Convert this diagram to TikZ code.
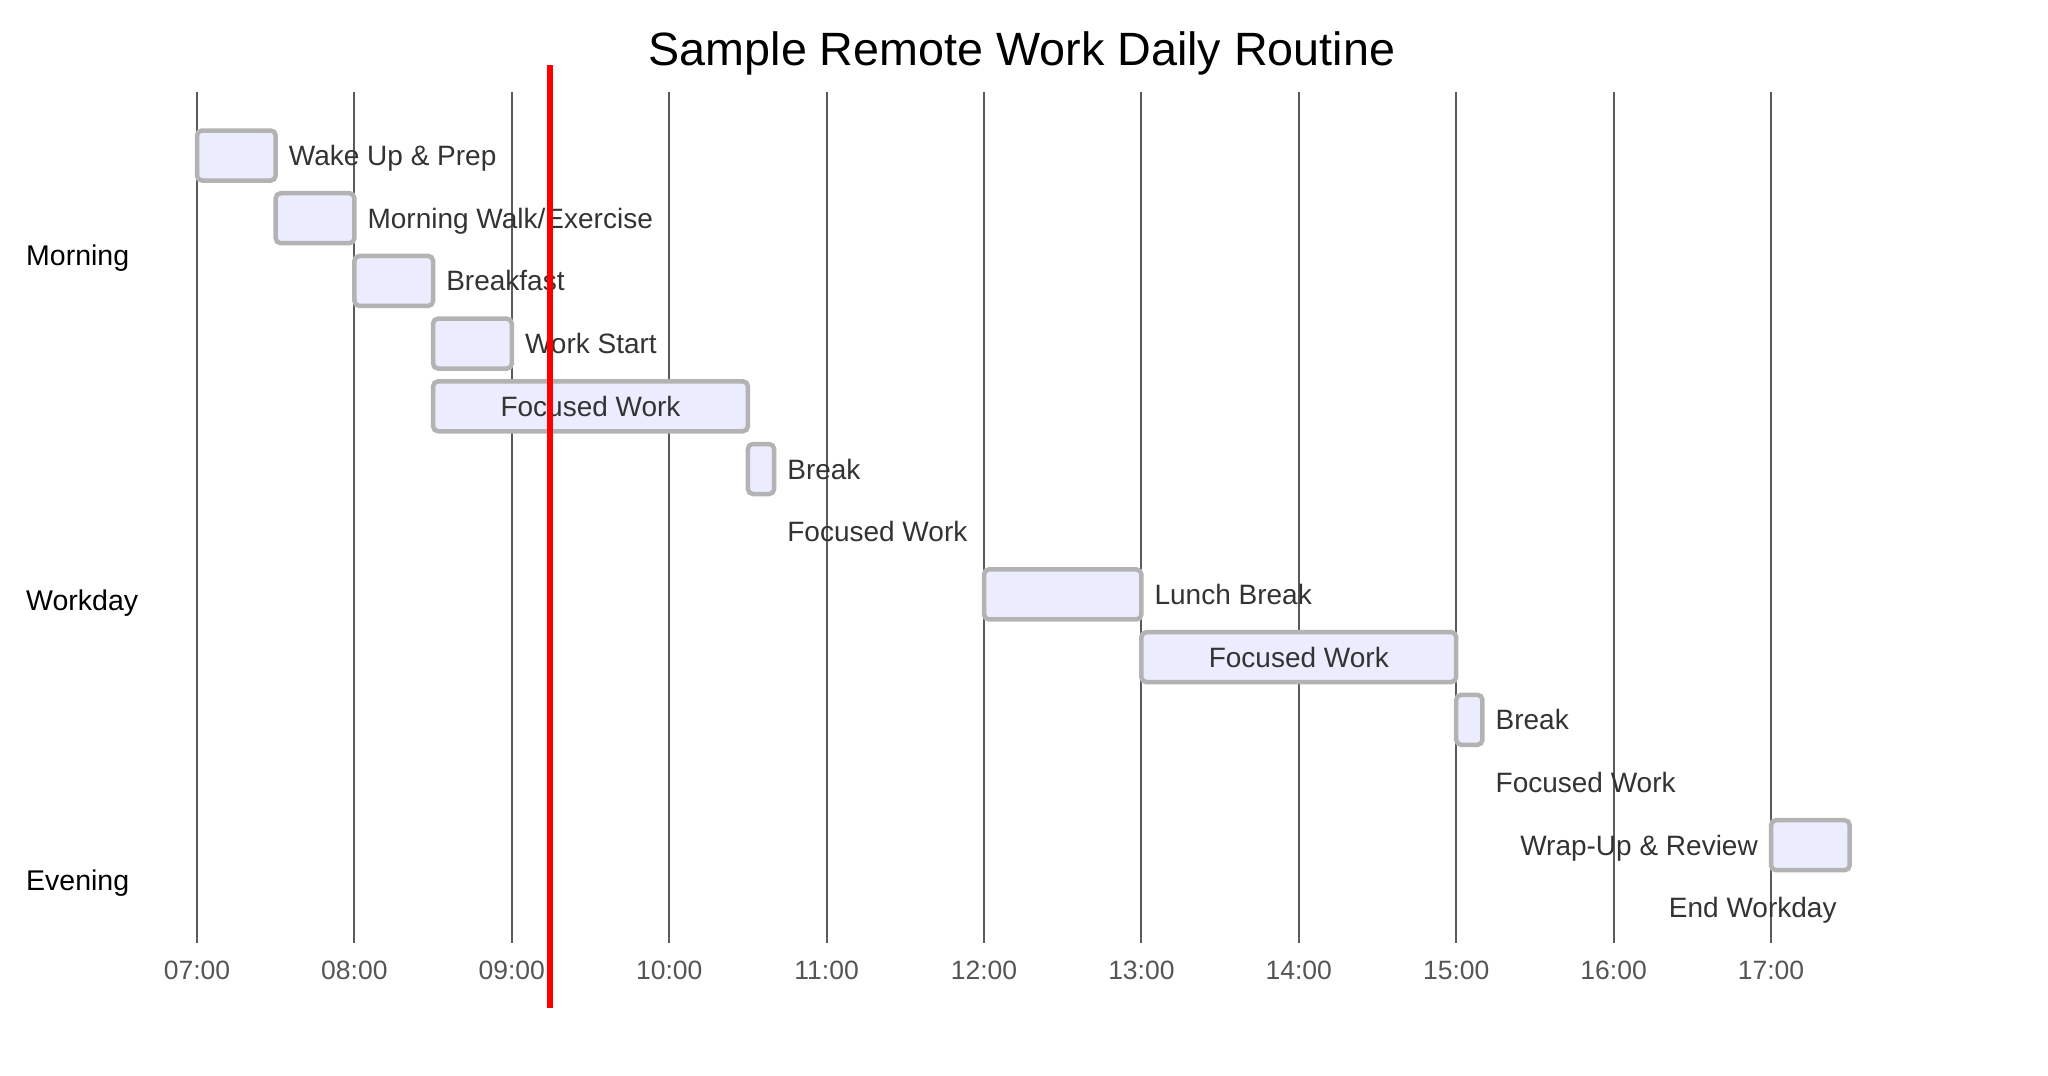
\documentclass[tikz,border=0pt]{standalone}
\usepackage{fontspec}
\setmainfont{Liberation Sans}
\usetikzlibrary{positioning}

\tikzset{
  taskbar/.style={draw=barline, line width=4.5pt, fill=barfill, rounded corners=5pt},
  tasklbl/.style={text=lbltext, inner sep=0pt, font=\fontsize{28}{34}\selectfont},
  sectlbl/.style={text=black, inner sep=0pt, anchor=base west, font=\fontsize{28.5}{34}\selectfont},
  ticklbl/.style={text=ticktext, inner sep=0pt, anchor=base, font=\fontsize{26.5}{32}\selectfont},
  gridline/.style={draw=gridgray, line width=2pt},
  todayline/.style={draw=red, line width=6pt}
}

\begin{document}
\begin{tikzpicture}[x=1pt, y=-1pt]
		\definecolor{barfill}{HTML}{ECECFF}
		\definecolor{barline}{HTML}{B3B3B3}
		\definecolor{lbltext}{HTML}{333333}
		\definecolor{ticktext}{HTML}{555555}
		\definecolor{gridgray}{HTML}{5A5A5A}
		\useasboundingbox (0,0) rectangle (2048,1076);
		
		% title
		\node[inner sep=0pt, anchor=base, font=\fontsize{46.7}{56}\selectfont] (title) at (1022,65) {Sample Remote Work Daily Routine};
		
		% hour grid and axis labels
		\foreach \h in {7,...,17} {
			\pgfmathsetmacro\gx{197+(\h-7)*157.4}
			\draw[gridline] (\gx,91.5) -- (\gx,942.5);
			\node[ticklbl] (tick\h) at (\gx,979) {\ifnum\h<10 0\fi\h:00};
		}
		
		% sections
		\node[sectlbl] (morning) at (26,265) {Morning};
		\node[sectlbl] (workday) at (26,610) {Workday};
		\node[sectlbl] (evening) at (26,890) {Evening};
		
		% task bars (row / start / end)
		\foreach \i/\s/\e in {0/7/7.5, 1/7.5/8, 2/8/8.5, 3/8.5/9, 4/8.5/10.5, 5/10.5/10.6667,
		                      7/12/13, 8/13/15, 9/15/15.1667, 11/17/17.5} {
			\pgfmathsetmacro\xs{197+(\s-7)*157.4}
			\pgfmathsetmacro\xe{197+(\e-7)*157.4}
			\pgfmathsetmacro\yc{155.5+\i*62.7}
			\draw[taskbar] (\xs,\yc-25) rectangle (\xe,\yc+25);
		}
		
		% labels right of the bar
		\foreach \i/\e/\txt in {0/7.5/{Wake Up \& Prep}, 1/8/{Morning Walk/Exercise}, 2/8.5/Breakfast,
		                        3/9/Work Start, 5/10.6667/Break, 6/10.6667/Focused Work,
		                        7/13/Lunch Break, 9/15.1667/Break, 10/15.1667/Focused Work} {
			\pgfmathsetmacro\xe{197+(\e-7)*157.4}
			\pgfmathsetmacro\yc{155.5+\i*62.7}
			\node[tasklbl, anchor=base west] (task\i) at (\xe+13,\yc+10) {\txt};
		}
		
		% labels inside the bar
		\foreach \i/\m in {4/9.5, 8/14} {
			\pgfmathsetmacro\xm{197+(\m-7)*157.4}
			\pgfmathsetmacro\yc{155.5+\i*62.7}
			\node[tasklbl, anchor=base] (task\i) at (\xm,\yc+10) {Focused Work};
		}
		
		% labels left of the bar
		\foreach \i/\s/\txt in {11/17/{Wrap-Up \& Review}, 12/17.5/End Workday} {
			\pgfmathsetmacro\xs{197+(\s-7)*157.4}
			\pgfmathsetmacro\yc{155.5+\i*62.7}
			\node[tasklbl, anchor=base east] (task\i) at (\xs-13,\yc+10) {\txt};
		}
		
		% current time marker
		\coordinate (nowtop) at (550,65);
		\coordinate (nowbot) at (550,1008);
		\draw[todayline] (nowtop) -- (nowbot);
	\end{tikzpicture}
\end{document}
